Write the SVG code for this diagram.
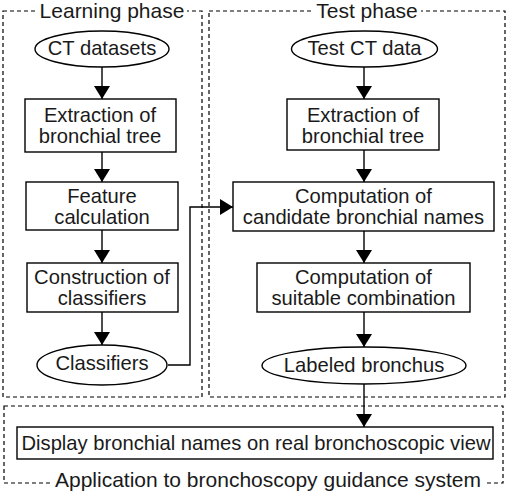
<svg xmlns="http://www.w3.org/2000/svg" width="509" height="493" viewBox="0 0 509 493">
<defs>
<marker id="ah" markerUnits="userSpaceOnUse" markerWidth="14" markerHeight="16" viewBox="0 0 13 16" refX="13" refY="8" orient="auto">
<path d="M0,0 L13,8 L0,16 Z" fill="#000"/>
</marker>
<style>
.frame{fill:none;stroke:#000;stroke-width:1.2;stroke-dasharray:4 3}
.box{fill:#fff;stroke:#000;stroke-width:1.4}
.t{font-family:"Liberation Sans",Arial,sans-serif;font-size:20.2px;text-anchor:middle;fill:#1a1a1a}
.title{font-family:"Liberation Sans",Arial,sans-serif;font-size:21px;text-anchor:middle;fill:#1a1a1a}
.c{fill:none;stroke:#000;stroke-width:1.4}
.bg{fill:#fff}
</style>
</defs>
<rect width="509" height="493" fill="#fff"/>
<g id="frames">
<rect class="frame" x="3" y="11" width="199" height="386"/>
<rect class="frame" x="209" y="11" width="296" height="386"/>
<rect class="frame" x="4" y="406" width="499" height="77"/>
<rect class="bg" x="38" y="0" width="149" height="22"/>
<text class="title" x="112" y="18">Learning phase</text>
<rect class="bg" x="313" y="0" width="108" height="22"/>
<text class="title" x="367" y="17.5">Test phase</text>
<rect class="bg" x="50" y="470" width="436" height="23"/>
<text class="title" x="268" y="487">Application to bronchoscopy guidance system</text>
</g>
<g id="connectors">
<path class="c" d="M102,67 V99" marker-end="url(#ah)"/>
<path class="c" d="M102,152 V182" marker-end="url(#ah)"/>
<path class="c" d="M102,230 V263" marker-end="url(#ah)"/>
<path class="c" d="M102,312 V345" marker-end="url(#ah)"/>
<path class="c" d="M168,365 H190 V207 H233" marker-end="url(#ah)"/>
<path class="c" d="M364,67 V99" marker-end="url(#ah)"/>
<path class="c" d="M364,150 V182" marker-end="url(#ah)"/>
<path class="c" d="M364,231 V263" marker-end="url(#ah)"/>
<path class="c" d="M364,312 V347" marker-end="url(#ah)"/>
<path class="c" d="M364,384 V427" marker-end="url(#ah)"/>
</g>
<g id="ct-datasets">
<ellipse class="box" cx="102" cy="49" rx="67" ry="18"/>
<text class="t" x="102" y="55">CT datasets</text>
</g>
<g id="extraction-learn">
<rect class="box" x="25" y="99" width="151" height="53"/>
<text class="t" x="100" y="122">Extraction of</text>
<text class="t" x="100" y="143">bronchial tree</text>
</g>
<g id="feature">
<rect class="box" x="26" y="182" width="152" height="48"/>
<text class="t" x="102" y="203">Feature</text>
<text class="t" x="102" y="224">calculation</text>
</g>
<g id="construction">
<rect class="box" x="27" y="263" width="151" height="49"/>
<text class="t" x="102" y="284">Construction of</text>
<text class="t" x="102" y="305">classifiers</text>
</g>
<g id="classifiers">
<ellipse class="box" cx="102" cy="365" rx="65" ry="20"/>
<text class="t" x="102" y="370">Classifiers</text>
</g>
<g id="test-ct">
<ellipse class="box" cx="364.5" cy="49" rx="73" ry="18"/>
<text class="t" x="364.5" y="55">Test CT data</text>
</g>
<g id="extraction-test">
<rect class="box" x="287" y="99" width="152" height="51"/>
<text class="t" x="363" y="122">Extraction of</text>
<text class="t" x="363" y="143">bronchial tree</text>
</g>
<g id="candidate">
<rect class="box" x="233" y="182" width="261" height="49"/>
<text class="t" x="363.5" y="203">Computation of</text>
<text class="t" x="363.5" y="224">candidate bronchial names</text>
</g>
<g id="suitable">
<rect class="box" x="257" y="263" width="213" height="49"/>
<text class="t" x="363.5" y="284">Computation of</text>
<text class="t" x="363.5" y="305">suitable combination</text>
</g>
<g id="labeled">
<ellipse class="box" cx="364" cy="365.5" rx="102" ry="18.5"/>
<text class="t" x="364" y="372">Labeled bronchus</text>
</g>
<g id="display">
<rect class="box" x="17" y="427" width="476" height="32"/>
<text class="t" x="256" y="450">Display bronchial names on real bronchoscopic view</text>
</g>
</svg>
